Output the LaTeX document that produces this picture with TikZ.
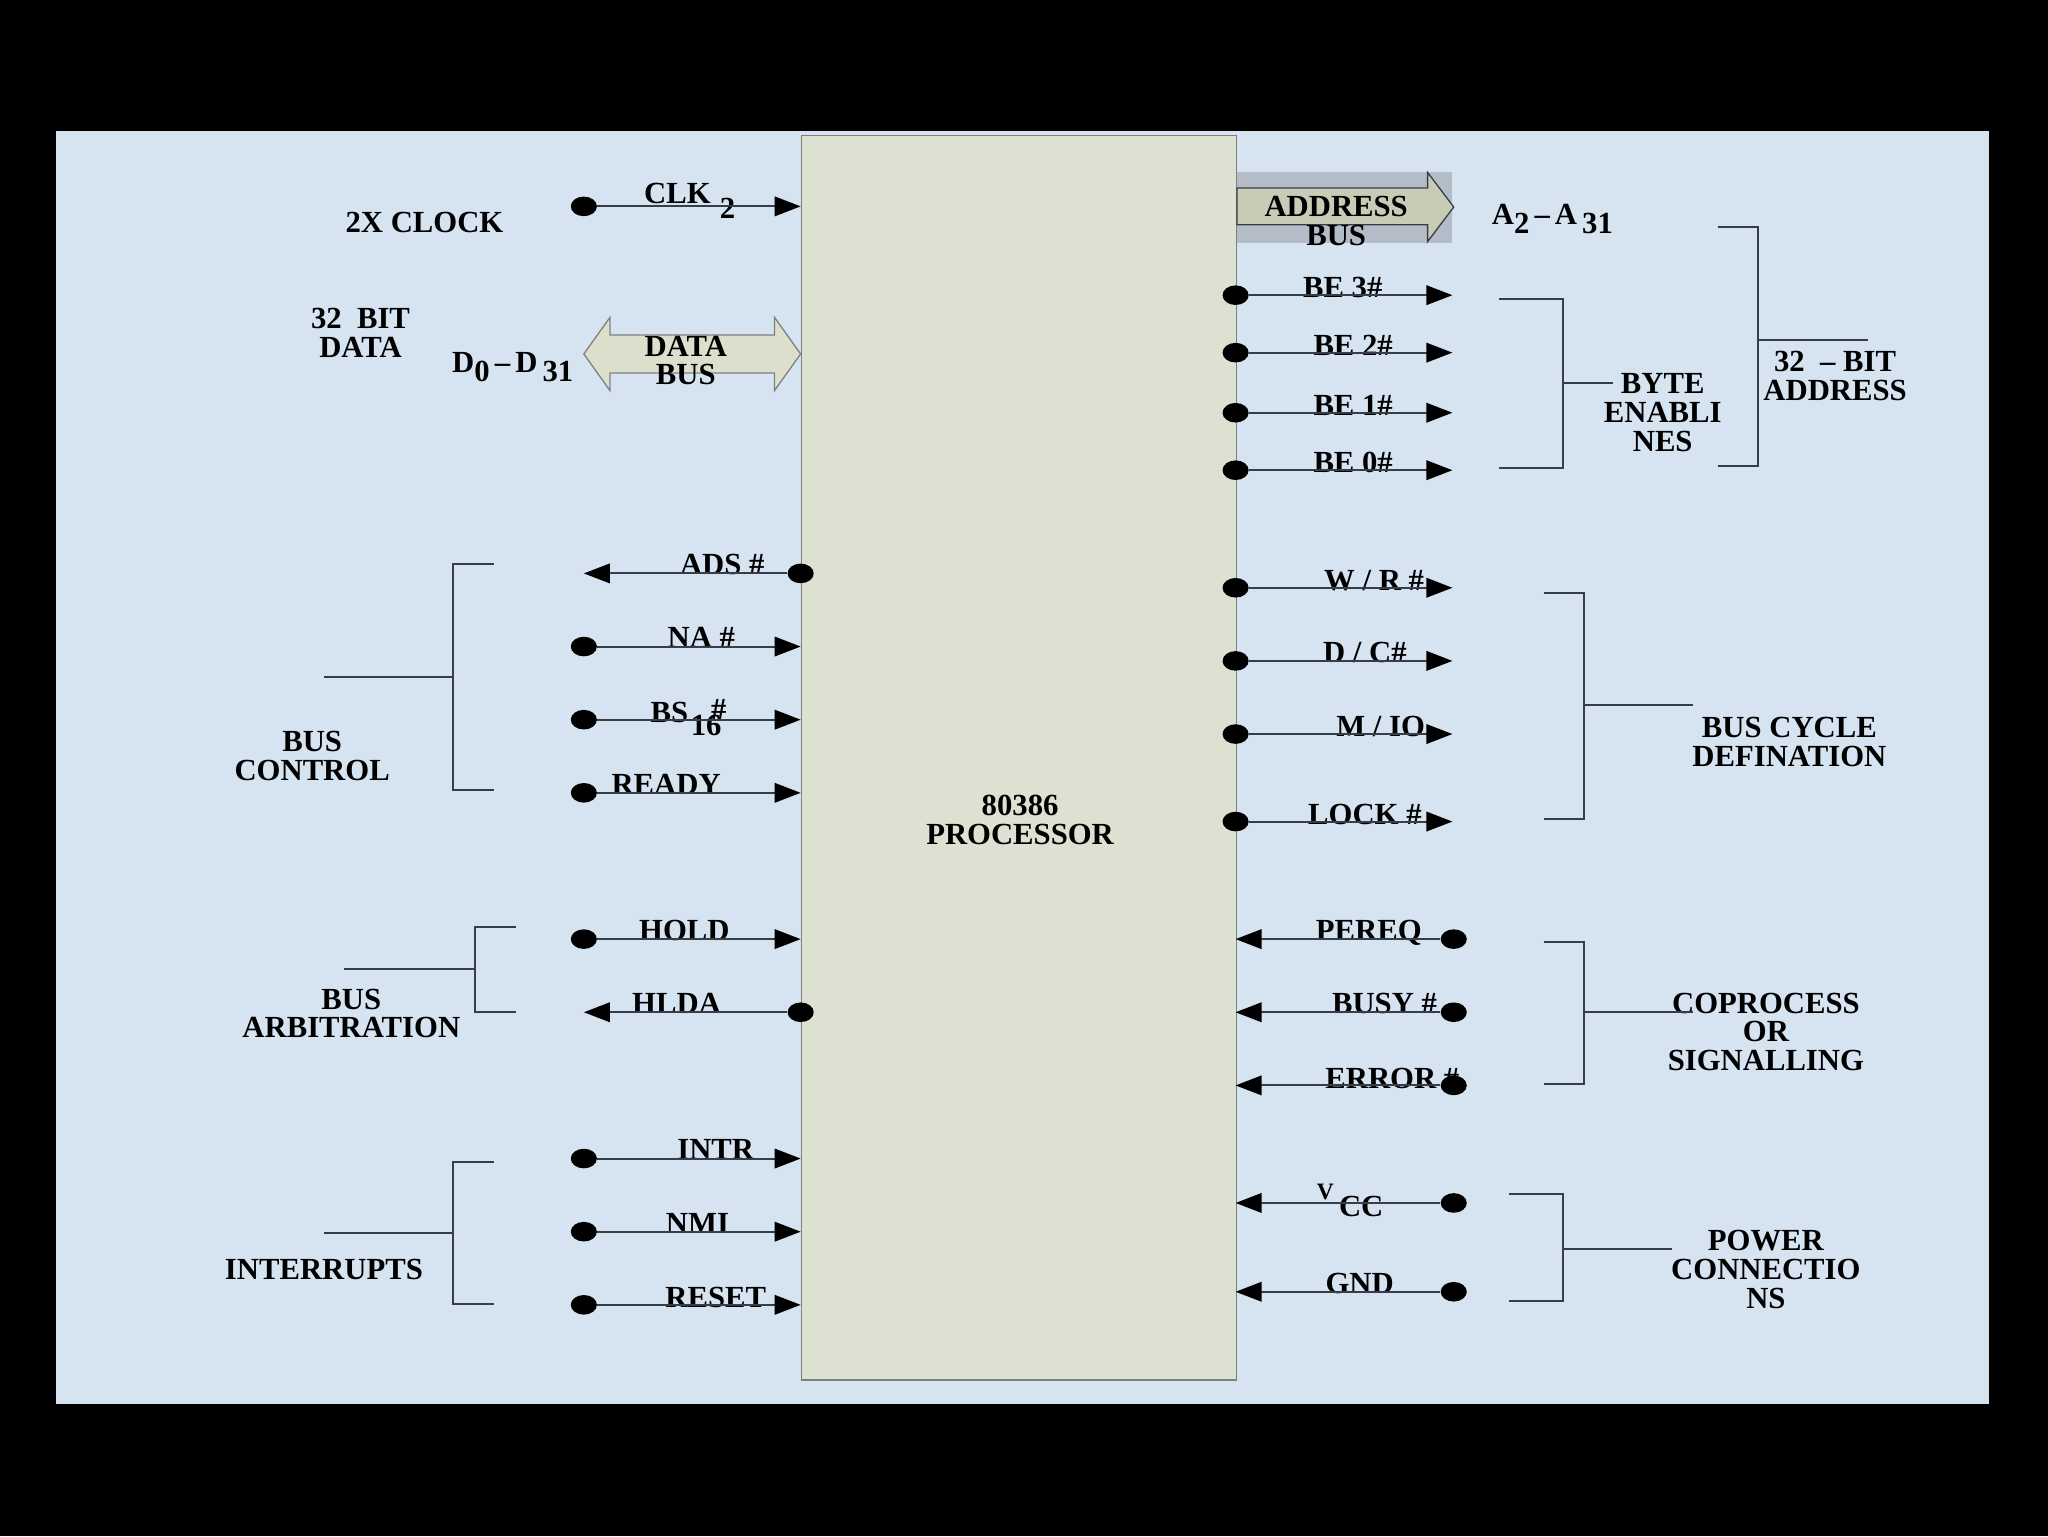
\documentclass[tikz,border=0pt]{standalone}
\usepackage{fontspec}
\setmainfont{Liberation Serif}
\usetikzlibrary{arrows.meta,shapes.geometric}
\definecolor{bgblue}{RGB}{214,227,240}
\definecolor{boxfill}{RGB}{221,225,209}
\definecolor{linec}{RGB}{55,62,72}
\definecolor{busfill}{RGB}{220,223,203}
\definecolor{abusfill}{RGB}{200,204,182}
\definecolor{shadowc}{RGB}{180,189,199}
\begin{document}
\begin{tikzpicture}[x=1pt,y=-1pt,
  sig/.style={draw=linec,line width=1.5pt},
  sigarr/.style={sig,-{Triangle[length=20pt,width=15pt,black]}},
  pin/.style={ellipse,fill=black,minimum width=20pt,minimum height=15pt,inner sep=0pt},
  lbl/.style={font=\bfseries\fontsize{23.5}{22}\selectfont,inner sep=0pt,anchor=base,text=black},
  lblw/.style={lbl,anchor=base west},
  grp/.style={font=\bfseries\fontsize{23.5}{22}\selectfont,inner sep=0pt,align=center,text=black},
  brk/.style={draw=linec,line width=1.5pt}]
% background
\fill[black] (0,0) rectangle (1568,1176);
\useasboundingbox (0,0) rectangle (1568,1176);
\fill[bgblue] (43,100) rectangle (1523,1075);
% processor
\node[draw=gray,line width=1.2pt,fill=boxfill,minimum width=333pt,minimum height=953pt,inner sep=0pt,anchor=north west] (cpu) at (613,103) {};
\node[grp] (cputxt) at (781,628) {80386\\PROCESSOR};

% data bus double arrow
\filldraw[fill=busfill,draw=gray,line width=1pt] (447,271) -- (467,243) -- (467,256.5) -- (593,256.5) -- (593,243) -- (613,271) -- (593,299) -- (593,285.5) -- (467,285.5) -- (467,299) -- cycle;
\node[grp] (dbus) at (525,276) {DATA\\BUS};

% address bus arrow
\fill[shadowc] (947,132) rectangle (1112,186);
\filldraw[fill=abusfill,draw=linec,line width=1pt] (947,144) -- (1093,144) -- (1093,132) -- (1113,158.5) -- (1093,185) -- (1093,172) -- (947,172) -- cycle;
\node[grp] (abus) at (1023,169) {ADDRESS\\BUS};

% group labels
\node[grp] (clock) at (325,170) {2X CLOCK};
\node[grp] (data32) at (276,255) {32\ \ BIT\\DATA};
\node[lblw] (dlab) at (346,285) {D\raisebox{-7pt}{0}\,–\,D\,\raisebox{-7pt}{31}};
\node[lblw] (alab) at (1142,172) {A\raisebox{-7pt}{2}\,–\,A\,\raisebox{-7pt}{31}};
\node[grp] (bytelab) at (1273,316) {BYTE\\ENABLI\\NES};
\node[grp] (addrlab) at (1405,288) {32\ \ – BIT\\ADDRESS};
\node[grp] (cyclab) at (1370,568) {BUS CYCLE\\DEFINATION};
\node[grp] (coplab) at (1352,790) {COPROCESS\\OR\\SIGNALLING};
\node[grp] (powlab) at (1352,972) {POWER\\CONNECTIO\\NS};
\node[grp] (ctllab) at (239,579) {BUS\\CONTROL};
\node[grp] (arblab) at (269,776) {BUS\\ARBITRATION};
\node[grp] (intlab) at (248,972) {INTERRUPTS};

% signal labels
\node[lblw] (lclk) at (493,156) {CLK\hspace{7pt}\raisebox{-11pt}{2}};
\node[lbl] (lads) at (553,440) {ADS \#};
\node[lbl] (lna) at (537,496) {NA \#};
\node[lblw] (lbs) at (498,553) {BS\hspace{2pt}\raisebox{-10pt}{16}\hspace{-8pt}\raisebox{2pt}{\#}};
\node[lbl] (lready) at (510,608) {READY};
\node[lbl] (lhold) at (524,720) {HOLD};
\node[lbl] (lhlda) at (518,776) {HLDA};
\node[lbl] (lintr) at (548,888) {INTR};
\node[lbl] (lnmi) at (534,944) {NMI};
\node[lbl] (lreset) at (548,1001) {RESET};
\node[lbl] (lbe3) at (1028,228) {BE 3\#};
\node[lbl] (lbe2) at (1036,272) {BE 2\#};
\node[lbl] (lbe1) at (1036,318) {BE 1\#};
\node[lbl] (lbe0) at (1036,362) {BE 0\#};
\node[lbl] (lwr) at (1052,452) {W / R \#};
\node[lbl] (ldc) at (1045,507) {D / C\#};
\node[lbl] (lmio) at (1057,564) {M / IO};
\node[lbl] (llock) at (1045,631) {LOCK \#};
\node[lbl] (lpereq) at (1048,720) {PEREQ};
\node[lbl] (lbusy) at (1060,776) {BUSY \#};
\node[lbl] (lerror) at (1066,833) {ERROR \#};
\node[lblw] (lvcc) at (1008,918) {\fontsize{18}{18}\selectfont V\hspace{4pt}\raisebox{-13pt}{\fontsize{23.5}{22}\selectfont CC}};
\node[lbl] (lgnd) at (1041,990) {GND};

% left inputs
\foreach \n/\y in {clk/158,na/495,bs/551,ready/607,hold/719,intr/887,nmi/943,reset/999}{
  \node[pin] (d\n) at (447,\y) {};
  \coordinate (t\n) at (613,\y);
  \draw[sigarr] (d\n) -- (t\n);
}
% left outputs
\foreach \n/\y in {ads/439,hlda/775}{
  \node[pin] (d\n) at (613,\y) {};
  \coordinate (t\n) at (447,\y);
  \draw[sigarr] (d\n) -- (t\n);
}
% right outputs
\foreach \n/\y in {be3/226,be2/270,be1/316,be0/360,wr/450,dc/506,mio/562,lock/629}{
  \node[pin] (d\n) at (946,\y) {};
  \coordinate (t\n) at (1112,\y);
  \draw[sigarr] (d\n) -- (t\n);
}
% right inputs
\foreach \n/\y in {pereq/719,busy/775,error/831,vcc/921,gnd/989}{
  \node[pin] (d\n) at (1113,\y) {};
  \coordinate (t\n) at (946,\y);
  \draw[sigarr] (d\n) -- (t\n);
}

% brackets left
\draw[brk] (378,432) -- (347,432) -- (347,605) -- (378,605);
\draw[brk] (347,518) -- (248,518);
\draw[brk] (395,710) -- (364,710) -- (364,775) -- (395,775);
\draw[brk] (364,742) -- (263,742);
\draw[brk] (378,890) -- (347,890) -- (347,998) -- (378,998);
\draw[brk] (347,944) -- (248,944);
% brackets right
\draw[brk] (1148,229) -- (1197,229) -- (1197,358) -- (1148,358);
\draw[brk] (1197,293) -- (1235,293);
\draw[brk] (1315,174) -- (1346,174) -- (1346,357) -- (1315,357);
\draw[brk] (1346,260) -- (1430,260);
\draw[brk] (1182,454) -- (1213,454) -- (1213,627) -- (1182,627);
\draw[brk] (1213,540) -- (1296,540);
\draw[brk] (1182,721) -- (1213,721) -- (1213,830) -- (1182,830);
\draw[brk] (1213,775) -- (1296,775);
\draw[brk] (1155,914) -- (1197,914) -- (1197,996) -- (1155,996);
\draw[brk] (1197,956) -- (1280,956);
\end{tikzpicture}
\end{document}
